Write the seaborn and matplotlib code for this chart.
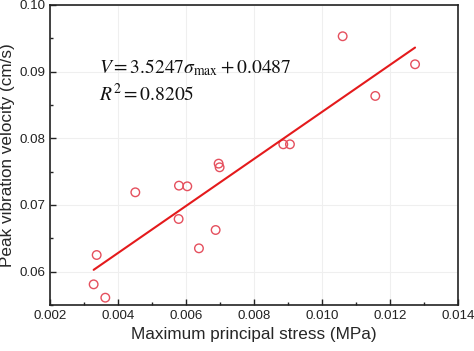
import numpy as np
import pandas as pd
import matplotlib.pyplot as plt
import seaborn as sns
from matplotlib.ticker import MultipleLocator

# data
stress = [0.01061, 0.01274, 0.01157, 0.008863, 0.009059, 0.006961, 0.00699,
          0.005794, 0.006039, 0.00451, 0.005784, 0.006873, 0.006382,
          0.003373, 0.003284, 0.003627]
velocity = [0.0953, 0.0911, 0.08635, 0.0791, 0.0791, 0.0762, 0.07565,
            0.0729, 0.0728, 0.0719, 0.0679, 0.06625, 0.0635,
            0.0625, 0.0581, 0.0561]

slope = 3.5247
intercept = 0.0487
r2 = 0.8205

df = pd.DataFrame({"stress": stress, "velocity": velocity})
xfit = np.array([min(stress), max(stress)])
fit = pd.DataFrame({"stress": xfit, "velocity": slope * xfit + intercept})

sns.set_style("white")
plt.rcParams["font.family"] = ["Liberation Sans", "DejaVu Sans"]
plt.rcParams["mathtext.fontset"] = "stix"

fig, ax = plt.subplots(figsize=(4.74, 3.51), dpi=100)
fig.subplots_adjust(left=0.1055, right=0.966, top=0.986, bottom=0.131)

ax.grid(True, color="#efefef", linewidth=0.8)
ax.set_axisbelow(True)

sns.lineplot(data=fit, x="stress", y="velocity", ax=ax, color="#e41a1c",
             linewidth=1.5)
sns.scatterplot(data=df, x="stress", y="velocity", ax=ax, marker="o",
                s=38, facecolors="none", edgecolor="#e5505e", linewidth=1.0)

ax.set_xlim(0.002, 0.014)
ax.set_ylim(0.055, 0.10)
ax.xaxis.set_major_locator(MultipleLocator(0.002))
ax.xaxis.set_minor_locator(MultipleLocator(0.001))
ax.yaxis.set_major_locator(MultipleLocator(0.01))
ax.yaxis.set_minor_locator(MultipleLocator(0.005))
ax.xaxis.set_major_formatter(plt.FormatStrFormatter("%.3f"))
ax.yaxis.set_major_formatter(plt.FormatStrFormatter("%.2f"))
ax.tick_params(which="both", direction="in", bottom=True, left=True,
               top=False, right=False, labelsize=9.6, colors="#222222")
ax.tick_params(which="major", length=4, width=1)
ax.tick_params(which="minor", length=2.5, width=1)
for sp in ax.spines.values():
    sp.set_color("#222222")
    sp.set_linewidth(1.2)

ax.set_xlabel("Maximum principal stress (MPa)", fontsize=12.3, labelpad=4)
ax.set_ylabel("Peak vibration velocity (cm/s)", fontsize=12.3, labelpad=3)

ax.text(0.00345, 0.0906, r"$V=3.5247\sigma_{\mathrm{max}}+0.0487$",
        fontsize=14, va="center", ha="left", color="#111111")
ax.text(0.00345, 0.0867, r"$R^2=%.4f$" % r2,
        fontsize=14, va="center", ha="left", color="#111111")

fig.savefig("out.png", dpi=100)
